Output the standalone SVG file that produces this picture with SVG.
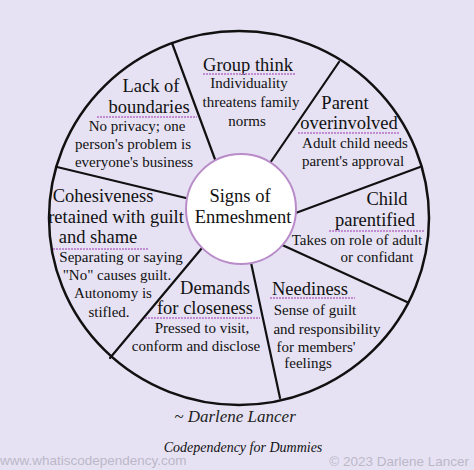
<svg xmlns="http://www.w3.org/2000/svg" width="474" height="470" viewBox="0 0 474 470">
<style>
.bg{fill:#e6e2f3}
.outer{fill:none;stroke:#111;stroke-width:2.5}
.inner{fill:#fff;stroke:#b98bc9;stroke-width:2}
.spoke{stroke:#111;stroke-width:2.2;stroke-linecap:round}
.t{font-family:"Liberation Serif","Times New Roman",serif;font-size:18.5px;fill:#111}
.b{font-family:"Liberation Serif","Times New Roman",serif;font-size:15px;fill:#111}
.ul{stroke:#b570c6;stroke-width:1.6;stroke-dasharray:2 1;fill:none}
.sig{font-family:"Liberation Serif","Times New Roman",serif;font-style:italic;font-size:17px;fill:#222}
.book{font-family:"Liberation Serif","Times New Roman",serif;font-style:italic;font-size:14px;fill:#111}
.wm{font-family:"Liberation Sans",Arial,sans-serif;font-size:13.5px;fill:#bcb8c8}
</style>
<rect class="bg" x="0" y="0" width="474" height="470"/>
<ellipse class="outer" cx="239" cy="218" rx="190" ry="187"/>
<g id="connectors">
<line class="spoke" x1="172" y1="43" x2="216" y2="162"/>
<line class="spoke" x1="339" y1="62" x2="270" y2="163"/>
<line class="spoke" x1="420" y1="167" x2="293" y2="214"/>
<line class="spoke" x1="407" y1="302" x2="280" y2="244"/>
<line class="spoke" x1="280" y1="398" x2="250" y2="258"/>
<line class="spoke" x1="110" y1="358" x2="202" y2="248"/>
<line class="spoke" x1="57" y1="167" x2="190" y2="199"/>
</g>
<g id="center">
<circle class="inner" cx="241" cy="209" r="55"/>
<text class="t" x="240" y="202" text-anchor="middle">Signs of</text>
<text class="t" x="243" y="223" text-anchor="middle">Enmeshment</text>
</g>
<g id="group-think">
<text class="t" x="248" y="71" text-anchor="middle">Group think</text>
<line class="ul" x1="203" y1="74" x2="296" y2="74"/>
<text class="b" x="249" y="88" text-anchor="middle">Individuality</text>
<text class="b" x="251" y="107" text-anchor="middle">threatens family</text>
<text class="b" x="247" y="126" text-anchor="middle">norms</text>
</g>
<g id="lack-of-boundaries">
<text class="t" x="151" y="92" text-anchor="middle">Lack of</text>
<text class="t" x="149" y="113" text-anchor="middle">boundaries</text>
<line class="ul" x1="97" y1="117" x2="197" y2="117"/>
<text class="b" x="137" y="131" text-anchor="middle">No privacy; one</text>
<text class="b" x="133" y="149" text-anchor="middle">person's problem is</text>
<text class="b" x="134" y="167" text-anchor="middle">everyone's business</text>
</g>
<g id="parent-overinvolved">
<text class="t" x="345" y="109" text-anchor="middle">Parent</text>
<text class="t" x="349" y="129" text-anchor="middle">overinvolved</text>
<line class="ul" x1="298" y1="133" x2="400" y2="133"/>
<text class="b" x="355" y="148" text-anchor="middle">Adult child needs</text>
<text class="b" x="353" y="166" text-anchor="middle">parent's approval</text>
</g>
<g id="child-parentified">
<text class="t" x="387" y="205" text-anchor="middle">Child</text>
<text class="t" x="375" y="226" text-anchor="middle">parentified</text>
<line class="ul" x1="329" y1="231" x2="424" y2="231"/>
<text class="b" x="357" y="245" text-anchor="middle">Takes on role of adult</text>
<text class="b" x="377" y="262" text-anchor="middle">or confidant</text>
</g>
<g id="neediness">
<text class="t" x="310" y="295" text-anchor="middle">Neediness</text>
<line class="ul" x1="270" y1="298" x2="355" y2="298"/>
<text class="b" x="315" y="315" text-anchor="middle">Sense of guilt</text>
<text class="b" x="327" y="334" text-anchor="middle">and responsibility</text>
<text class="b" x="316" y="352" text-anchor="middle">for members'</text>
<text class="b" x="308" y="368" text-anchor="middle">feelings</text>
</g>
<g id="demands-for-closeness">
<text class="t" x="215" y="294" text-anchor="middle">Demands</text>
<text class="t" x="205" y="314" text-anchor="middle">for closeness</text>
<line class="ul" x1="145" y1="318" x2="260" y2="318"/>
<text class="b" x="202" y="333" text-anchor="middle">Pressed to visit,</text>
<text class="b" x="196" y="351" text-anchor="middle">conform and disclose</text>
</g>
<g id="cohesiveness">
<text class="t" x="103" y="202" text-anchor="middle">Cohesiveness</text>
<text class="t" x="116" y="223" text-anchor="middle">retained with guilt</text>
<text class="t" x="98" y="243" text-anchor="middle">and shame</text>
<line class="ul" x1="53" y1="249" x2="148" y2="249"/>
<text class="b" x="121" y="262" text-anchor="middle">Separating or saying</text>
<text class="b" x="117" y="280" text-anchor="middle">"No" causes guilt.</text>
<text class="b" x="113" y="298" text-anchor="middle">Autonomy is</text>
<text class="b" x="109" y="317" text-anchor="middle">stifled.</text>
</g>
<text class="sig" x="235" y="422" text-anchor="middle">~ Darlene Lancer</text>
<text class="book" x="243" y="452" text-anchor="middle">Codependency for Dummies</text>
<text class="wm" x="0" y="465">www.whatiscodependency.com</text>
<text class="wm" x="469" y="466" text-anchor="end">© 2023 Darlene Lancer</text>
</svg>
